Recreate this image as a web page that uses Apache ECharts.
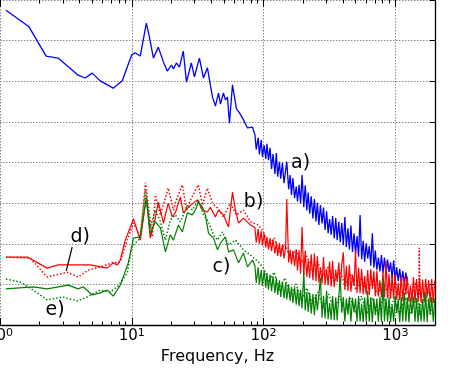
<!DOCTYPE html>
<html><head><meta charset="utf-8">
<script src="https://cdn.jsdelivr.net/npm/echarts@6/dist/echarts.min.js"></script>
<style>html,body{margin:0;padding:0;background:#fff}#c{width:474px;height:372px}</style>
</head><body><div id="c"></div>
<script>
// ---- data (frequency in Hz, level in arbitrary units; grid every 10) ----
const tickExponents = [0, 1, 2, 3];
const minorTicks = [2,3,4,5,6,7,8,9,20,30,40,50,60,70,80,90,200,300,400,500,600,700,800,900];

const aLowFreq = [1.11,1.66,2.24,2.76,3.92,4.43,5.01,5.76,7.23,8.47,9.24,10.0,10.6,11.6,12.9,13.6,14.6,15.9,17.4,18.6,20.0,20.7,21.8,23.0,24.6,26.0,28.3,29.9,32.6,35.0,37.5,38.9,41.0,43.1,45.5,47.1,49.6,51.4,53.2,55.1,58.1,62.3,65.7,70.4,75.5,82.5];
const aLowVal  = [77.5,73.4,66.2,65.7,61.5,60.8,62.0,60.1,58.3,60.1,63.5,66.5,67.0,66.2,74.3,70.9,65.7,68.4,64.7,62.5,64.0,63.0,64.5,63.5,67.4,59.8,64.5,61.1,65.7,60.8,63.3,60.3,56.1,53.9,57.1,54.4,57.1,55.4,56.1,49.7,59.1,53.2,52.2,50.5,48.5,48.7];

const hfFreq = [86,88,91,93,96,98,101,104,106,109,112,115,118,122,125,128,132,135,139,143,147,150,155,159,163,167,172,177,181,186,191,196,202,207,213,218,224,230,237,243,250,256,263,270,278,285,293,301,309,317,326,334,344,353,362,372,382,392,403,414,425,437,448,460,473,486,499,512,526,540,555,570,585,601,617,634,651,669,687,705,724,744,764,785,806,827,850,873,896,920,945,971,997,1024,1052,1080,1109,1139,1170,1202,1234,1267,1302,1337,1373,1410,1448,1487,1527,1568,1611,1654,1699,1745,1792,1840,1890,1941,1993];

const aHighVal = [46.8,43.2,46.1,42.0,45.6,41.4,44.2,40.9,44.6,40.6,
  43.6,38.4,42.1,37.2,42.3,36.5,40.2,36.0,39.9,34.9,
  38.1,40.2,33.4,36.9,32.0,36.2,31.2,34.1,30.4,34.5,
  29.9,36.9,29.0,34.4,28.2,32.6,27.4,31.7,26.2,31.0,
  25.5,30.1,24.6,29.5,25.0,28.9,23.4,28.0,22.6,26.1,
  22.2,26.8,21.3,26.3,20.9,25.4,20.4,25.1,19.7,26.6,
  19.2,23.8,18.6,24.5,18.0,22.6,17.5,21.9,16.8,27.1,
  16.2,20.7,15.6,20.1,16.4,19.4,14.6,22.6,14.1,18.3,
  13.6,16.6,13.2,17.2,12.8,16.6,12.3,16.1,13.0,15.4,
  11.5,15.9,11.1,14.2,10.8,13.8,10.4,13.3,10.1,12.9,
  10.0];

const bLowFreq = [1.11,1.63,2.28,2.76,4.83,6.51,7.23,7.76,8.18,8.92,10.3,11.6,12.9,13.8,15.1,15.9,17.4,18.9,20.3,21.4,23.4,24.6,27.9,31.5,34.4,37.5,39.5,43.1,45.5,49.6,54.2,58.1,61.2,64.6,70.4,79.6];
const bLowVal  = [16.7,16.7,14.0,14.8,14.8,14.0,15.3,14.8,16.0,20.9,26.1,20.9,31.5,21.4,26.3,30.3,25.1,30.0,26.6,27.6,31.5,27.6,29.5,30.8,28.3,27.8,29.0,26.6,28.3,27.1,24.1,32.7,28.3,25.1,26.3,24.6];
const bHighVal = [24.0,20.3,23.6,20.0,23.1,19.6,22.5,19.1,21.7,18.6,
  21.4,18.2,21.0,17.6,20.5,17.0,20.2,16.8,19.8,16.4,
  19.1,31.0,15.4,18.5,14.9,18.3,14.5,18.6,13.4,18.4,
  12.6,24.1,12.2,18.3,11.8,15.9,11.6,17.4,11.0,17.6,
  10.8,16.9,10.5,14.2,10.2,16.7,10.0,13.8,9.8,15.6,
  9.5,15.8,9.3,13.6,10.6,15.4,8.8,14.9,17.9,8.6,
  14.6,8.4,14.8,8.2,12.4,9.6,18.2,7.9,14.1,7.8,
  13.8,7.6,12.1,7.5,13.5,7.4,13.7,8.9,13.2,7.1,
  13.4,7.0,11.0,6.9,13.1,6.8,15.8,6.6,12.6,6.5,
  12.3,6.4,12.5,6.2,10.4,6.1,12.2,6.0,11.7,7.4,
  11.9,5.8,9.8,5.7,11.8,5.6,11.3,5.6,11.6,5.5,
  11.2,5.6,11.4,7.0,11.0,5.5,11.3,5.4,10.9];

const cLowFreq = [1.11,1.78,2.28,3.29,3.92,4.28,5.01,5.76,6.51,7.23,8.18,9.41,10.3,11.6,12.9,13.8,15.1,16.5,18.0,19.6,20.7,22.6,24.2,26.4,28.8,30.4,32.0,34.4,36.2,38.2,41.7,44.7,47.1,51.4,54.2,59.2,64.6,70.4,75.5,82.5];
const cLowVal  = [8.9,9.4,8.9,9.8,8.9,9.4,7.4,7.9,8.6,7.1,9.8,15.3,21.4,21.7,31.3,22.6,25.4,23.9,18.0,22.2,20.9,24.6,22.9,27.6,27.1,28.3,30.3,29.0,27.1,22.6,21.4,18.5,20.2,21.7,18.0,18.5,15.3,17.7,14.3,16.0];
const cHighVal = [14.6,10.4,14.2,10.0,13.6,9.7,13.3,9.2,12.8,8.7,
  12.4,8.3,12.0,7.9,11.6,7.4,11.0,6.9,10.7,6.6,
  10.4,6.3,9.9,5.9,9.4,5.4,9.2,5.0,8.9,4.6,
  8.6,4.1,13.0,3.6,8.1,3.2,7.9,2.8,7.6,2.4,
  7.5,3.6,7.4,11.6,1.8,7.2,1.6,8.4,1.4,5.4,
  1.3,7.1,1.2,6.8,1.1,7.0,11.4,3.0,6.9,0.9,
  6.6,2.6,7.0,0.8,6.7,3.1,6.5,0.8,7.1,0.9,
  5.2,0.7,6.8,0.9,8.2,0.8,6.9,0.7,6.6,2.4,
  6.5,0.8,7.0,0.7,11.6,0.9,6.6,0.8,6.8,0.7,
  5.0,0.9,7.1,2.9,6.4,0.7,6.9,0.9,8.0,0.8,
  6.8,0.7,6.5,2.7,7.0,0.8,6.6,0.7,5.3,0.9,
  6.4,0.8,8.1,0.7,6.6,2.5,6.9,0.8,6.5];

const dLowFreq = [1.11,1.69,2.28,3.23,3.92,4.67,5.76,7.11,8.18,9.24,10.3,11.6,12.7,14.3,15.1,16.5,18.9,20.7,21.8,24.2,26.0,27.9,32.0,34.4,37.5,41.0,44.7,49.6,56.1,62.3,70.4,79.6,91.6];
const dLowVal  = [16.7,16.5,11.8,13.0,11.8,13.5,14.3,15.3,15.5,20.9,25.1,21.7,35.0,21.7,32.0,27.1,33.7,28.3,30.8,34.5,28.3,30.8,34.5,29.5,33.7,30.0,28.8,26.6,30.0,27.1,28.3,25.4,24.6];

const dottedFreq = [100,110,120,132,145,160,176,194,213,234,258,284,312,343,378,416,457,503,553,609,670,737,810,891,980,1078,1186,1305,1435,1505,1520,1535,1737,1911];
const dHighVal = [22.9,19.4,21.4,18.0,19.9,16.5,18.5,15.5,17.0,13.5,15.5,12.1,14.5,10.6,13.5,9.6,12.6,8.6,11.6,8.1,11.1,7.6,10.6,7.1,10.1,6.6,9.6,6.2,10.6,7.4,19.0,7.2,8.6,6.2];

const eLowFreq = [1.11,1.42,1.78,2.28,3.01,3.85,4.59,5.76,6.86,7.89,9.24,10.0,11.6,12.7,13.8,15.1,16.5,18.0,19.6,21.4,23.4,26.4,28.8,32.0,35.0,38.2,41.7,44.7,48.8,54.2,61.2,70.4,79.6,91.6];
const eLowVal  = [11.3,10.6,8.6,6.2,6.9,5.9,6.9,8.6,8.1,9.6,12.8,19.2,21.4,33.2,23.9,28.3,25.4,20.9,25.8,27.1,25.4,29.5,28.3,30.8,27.1,25.4,22.2,20.9,22.9,19.7,20.9,18.5,17.2,15.5];
const eHighVal = [14.0,10.6,13.0,8.6,11.6,7.1,10.1,6.2,9.1,5.2,8.1,4.2,7.6,3.7,7.1,3.2,6.6,2.7,7.1,2.7,6.6,2.5,7.1,2.7,6.6,2.5,6.9,2.7,6.6,5.0,2.5,4.8,6.9,2.7];

const noteText = ['a)', 'b)', 'c)', 'd)', 'e)'];
const noteFreq = [191, 84, 48, 4.06, 2.62];
const noteVal  = [39.9, 30.3, 14.3, 21.7, 3.7];
const leaderFreq = [3.53, 3.18];
const leaderVal  = [19.2, 13.3];

// ---- build ----
const Y_MIN = 0, Y_MAX = 80, PLOT_H = 325;
const MINOR_LEN = 3.5 * (Y_MAX - Y_MIN) / PLOT_H; // 3.5 px expressed in axis units
function pairs(f, v) { return v.map((y, i) => [f[i], y]); }
const FONT = 'DejaVu Sans';
const GRID_LINE = { show: true, lineStyle: { color: '#8a8a8a', width: 1, type: [1.5, 1.5] } };

function xAxisDef(pos, withLabels) {
  return {
    type: 'log', logBase: 10, min: 1, max: 2000, position: pos, gridIndex: 0,
    axisLine: { show: pos === 'bottom', onZero: false, lineStyle: { color: '#000', width: 1.3 } },
    axisTick: { show: true, inside: true, length: 7, lineStyle: { color: '#000', width: 1 } },
    splitLine: pos === 'bottom' ? GRID_LINE : { show: false },
    axisLabel: withLabels ? {
      show: true, margin: 3, showMinLabel: true, showMaxLabel: false, hideOverlap: false,
      formatter: function (v) {
        const e = Math.log10(v), r = Math.round(e);
        if (Math.abs(e - r) > 0.01 || tickExponents.indexOf(r) < 0) return '';
        return '{b|10}{s|' + r + '}';
      },
      rich: {
        b: { fontSize: 15, fontFamily: FONT, color: '#000', lineHeight: 16, padding: [5, 0, 0, 0], verticalAlign: 'bottom' },
        s: { fontSize: 11, fontFamily: FONT, color: '#000', lineHeight: 12, verticalAlign: 'top' }
      }
    } : { show: false },
    name: withLabels ? 'Frequency, Hz' : '',
    nameLocation: 'middle', nameGap: 22,
    nameTextStyle: { fontSize: 16, fontFamily: FONT, color: '#000' }
  };
}

function line(name, data, color, dotted, width) {
  return {
    name, type: 'line', data, xAxisIndex: 0, yAxisIndex: 0,
    symbol: 'none', showSymbol: false, smooth: false, silent: true,
    lineStyle: { color, width, type: dotted ? [1.5, 2] : 'solid' },
    itemStyle: { color }
  };
}

const sA = line('a', pairs(aLowFreq, aLowVal).concat(pairs(hfFreq, aHighVal)), '#0000ff', false, 1.3);
const sD = line('d', pairs(dLowFreq, dLowVal).concat(pairs(dottedFreq, dHighVal)), '#ff0000', true, 1.5);
const sB = line('b', pairs(bLowFreq, bLowVal).concat(pairs(hfFreq, bHighVal)), '#ff0000', false, 1.2);
const sE = line('e', pairs(eLowFreq, eLowVal).concat(pairs(dottedFreq, eHighVal)), '#008000', true, 1.5);
const sC = line('c', pairs(cLowFreq, cLowVal).concat(pairs(hfFreq, cHighVal)), '#008000', false, 1.2);

// minor ticks on bottom and top edges (log positions 2..9 per decade)
const minorTickLines = [];
minorTicks.forEach(f => {
  minorTickLines.push([{ coord: [f, Y_MIN] }, { coord: [f, Y_MIN + MINOR_LEN] }]);
  minorTickLines.push([{ coord: [f, Y_MAX] }, { coord: [f, Y_MAX - MINOR_LEN] }]);
});
const sTicks = {
  type: 'line', data: [], xAxisIndex: 0, yAxisIndex: 0, silent: true, z: 5,
  markLine: { symbol: ['none', 'none'], silent: true, animation: false, label: { show: false },
    lineStyle: { color: '#000', type: 'solid', width: 1 }, data: minorTickLines }
};

sC.markPoint = {
  symbol: 'circle', symbolSize: 1, silent: true,
  itemStyle: { color: 'rgba(0,0,0,0)' },
  label: { show: true, position: 'inside', formatter: p => p.name, fontSize: 19, fontFamily: FONT, color: '#000' },
  data: noteText.map((t, i) => ({ name: t, coord: [noteFreq[i], noteVal[i]] }))
};
sC.markLine = {
  symbol: ['none', 'none'], silent: true, animation: false,
  label: { show: false },
  lineStyle: { color: '#000', type: 'solid', width: 1.2 },
  data: [[{ coord: [leaderFreq[0], leaderVal[0]] }, { coord: [leaderFreq[1], leaderVal[1]] }]]
};

const chart = echarts.init(document.getElementById('c'), null, { renderer: 'canvas' });
chart.setOption({
  animation: false,
  backgroundColor: '#fff',
  grid: { left: 0, right: 39, top: 0, bottom: 47, containLabel: false, outerBoundsMode: 'none' },
  xAxis: [xAxisDef('bottom', true), xAxisDef('top', false)],
  yAxis: [
    { type: 'value', min: Y_MIN, max: Y_MAX, interval: 10, position: 'left',
      axisLine: { show: false }, axisTick: { show: false }, axisLabel: { show: false },
      splitLine: GRID_LINE },
    { type: 'value', min: Y_MIN, max: Y_MAX, interval: 10, position: 'right',
      axisLine: { show: true, lineStyle: { color: '#000', width: 1.3 } },
      axisTick: { show: true, inside: true, length: 5, lineStyle: { color: '#000' } },
      axisLabel: { show: false }, splitLine: { show: false } }
  ],
  series: [sA, sD, sB, sE, sC, sTicks]
});
</script>
</body></html>
